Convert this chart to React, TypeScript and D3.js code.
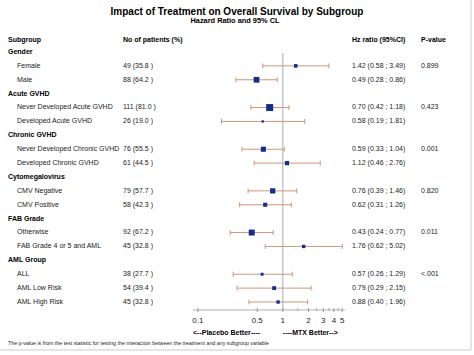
import React from "react";
import * as d3 from "d3";

const groups = ["Gender", "Acute GVHD", "Chronic GVHD", "Cytomegalovirus", "FAB Grade", "AML Group"];
const groupPValues = ["0.899", "0.423", "0.001", "0.820", "0.011", "<.001"];
const subgroups = [
  "Female", "Male",
  "Never Developed Acute GVHD", "Developed Acute GVHD",
  "Never Developed Chronic GVHD", "Developed Chronic GVHD",
  "CMV Negative", "CMV Positive",
  "Otherwise", "FAB Grade 4 or 5 and AML",
  "ALL", "AML Low Risk", "AML High Risk",
];
const groupOf = [0, 0, 1, 1, 2, 2, 3, 3, 4, 4, 5, 5, 5];
const nPatients = [49, 88, 111, 26, 76, 61, 79, 58, 92, 45, 38, 54, 45];
const pctPatients = [35.8, 64.2, 81.0, 19.0, 55.5, 44.5, 57.7, 42.3, 67.2, 32.8, 27.7, 39.4, 32.8];
const hazard = [1.42, 0.49, 0.70, 0.58, 0.59, 1.12, 0.76, 0.62, 0.43, 1.76, 0.57, 0.79, 0.88];
const lowerCI = [0.58, 0.28, 0.42, 0.19, 0.33, 0.46, 0.39, 0.31, 0.24, 0.62, 0.26, 0.29, 0.40];
const upperCI = [3.49, 0.86, 1.18, 1.81, 1.04, 2.76, 1.46, 1.26, 0.77, 5.02, 1.29, 2.15, 1.96];
const majorTicks = [0.1, 0.5, 1, 2, 3, 4, 5];
const minorTicks = [1.5, 2.5, 3.5, 4.5];

const W = 474;
const H = 355;
const FONT = "'Liberation Sans', Arial, sans-serif";
const CI_COLOR = "#d39479";
const MARK_COLOR = "#0f2f8c";

type Row = { kind: "group"; g: number } | { kind: "sub"; i: number };

export default function App() {
  const rows: Row[] = [];
  groups.forEach((_, g) => {
    rows.push({ kind: "group", g });
    subgroups.forEach((_, i) => {
      if (groupOf[i] === g) rows.push({ kind: "sub", i });
    });
  });

  const y = d3.scaleLinear().domain([0, rows.length - 1]).range([52, 302]);
  const x = d3.scaleLog().domain([0.0875, 5.4]).range([193, 345]);
  const size = d3.scaleLinear().domain(d3.extent(nPatients) as [number, number]).range([2.3, 7]);
  const fmt = d3.format(".2f");
  const axisY = 310;

  const firstSubOfGroup = groups.map((_, g) => groupOf.indexOf(g));

  return (
    <svg width={W} height={H} style={{ position: "absolute", left: 0, top: 0, background: "#fff" }} fontFamily={FONT}>
      <rect x={0} y={0} width={W} height={H} fill="#fff" />
      <line x1={471} x2={471} y1={0} y2={350} stroke="#dcdcdc" strokeWidth={1.5} />
      <line x1={0} x2={471} y1={350} y2={350} stroke="#dcdcdc" strokeWidth={1.5} />

      <text x={237} y={12} textAnchor="middle" dominantBaseline="middle" fontSize={10} fontWeight="bold" fill="#000">
        Impact of Treatment on Overall Survival by Subgroup
      </text>
      <text x={235} y={21.5} textAnchor="middle" dominantBaseline="middle" fontSize={7.4} fontWeight="bold" fill="#000">
        Hazard Ratio and 95% CL
      </text>

      <g fontSize={7} fontWeight="bold" fill="#000">
        <text x={8} y={40} dominantBaseline="middle">Subgroup</text>
        <text x={123} y={40} dominantBaseline="middle">No of patients (%)</text>
        <text x={352} y={40} dominantBaseline="middle">Hz ratio (95%CI)</text>
        <text x={421} y={40} dominantBaseline="middle">P-value</text>
      </g>

      {/* reference line at HR = 1 */}
      <line x1={x(1)} x2={x(1)} y1={53} y2={axisY} stroke="#a9abb3" strokeWidth={1} />

      {rows.map((r, k) => {
        const yy = y(k);
        if (r.kind === "group") {
          return (
            <text key={"g" + k} x={8} y={yy} dominantBaseline="middle" fontSize={7} fontWeight="bold" fill="#000">
              {groups[r.g]}
            </text>
          );
        }
        const i = r.i;
        const s = size(nPatients[i]);
        const g = groupOf[i];
        return (
          <g key={"s" + k}>
            <text x={17} y={yy} dominantBaseline="middle" fontSize={7} fill="#222">{subgroups[i]}</text>
            <text x={123} y={yy} dominantBaseline="middle" fontSize={7} fill="#222">
              {`${nPatients[i]} (${pctPatients[i].toFixed(1)} )`}
            </text>
            <line x1={x(lowerCI[i])} x2={x(upperCI[i])} y1={yy} y2={yy} stroke={CI_COLOR} strokeWidth={1} />
            <line x1={x(lowerCI[i])} x2={x(lowerCI[i])} y1={yy - 2.5} y2={yy + 2.5} stroke={CI_COLOR} strokeWidth={1} />
            <line x1={x(upperCI[i])} x2={x(upperCI[i])} y1={yy - 2.5} y2={yy + 2.5} stroke={CI_COLOR} strokeWidth={1} />
            <rect x={x(hazard[i]) - s / 2} y={yy - s / 2} width={s} height={s} fill={MARK_COLOR} />
            <text x={352} y={yy} dominantBaseline="middle" fontSize={7} fill="#222">
              {`${fmt(hazard[i])} (${fmt(lowerCI[i])} ; ${fmt(upperCI[i])})`}
            </text>
            {firstSubOfGroup[g] === i && (
              <text x={421} y={yy} dominantBaseline="middle" fontSize={7} fill="#222">{groupPValues[g]}</text>
            )}
          </g>
        );
      })}

      {/* axis */}
      <line x1={x.range()[0]} x2={x.range()[1]} y1={axisY} y2={axisY} stroke="#b0b0b0" strokeWidth={1} />
      {majorTicks.map((t) => (
        <g key={"t" + t}>
          <line x1={x(t)} x2={x(t)} y1={axisY - 2} y2={axisY + 2} stroke="#999" />
          <text x={x(t)} y={321} textAnchor="middle" dominantBaseline="middle" fontSize={8} fill="#222">
            {String(t)}
          </text>
        </g>
      ))}
      {minorTicks.map((t) => (
        <line key={"m" + t} x1={x(t)} x2={x(t)} y1={axisY - 2} y2={axisY + 1} stroke="#aaa" />
      ))}
      <text x={x.range()[0]} y={333} dominantBaseline="middle" fontSize={7} fontWeight="bold" fill="#000">
        {"<--Placebo Better----"}
      </text>
      <text x={x(1)} y={333} dominantBaseline="middle" fontSize={7} fontWeight="bold" fill="#000">
        {"----MTX Better-->"}
      </text>
      <text x={8} y={343.5} dominantBaseline="middle" fontSize={5.3} fill="#222">
        The p-value is from the test statistic for testing the interaction between the treatment and any subgroup variable
      </text>
    </svg>
  );
}
